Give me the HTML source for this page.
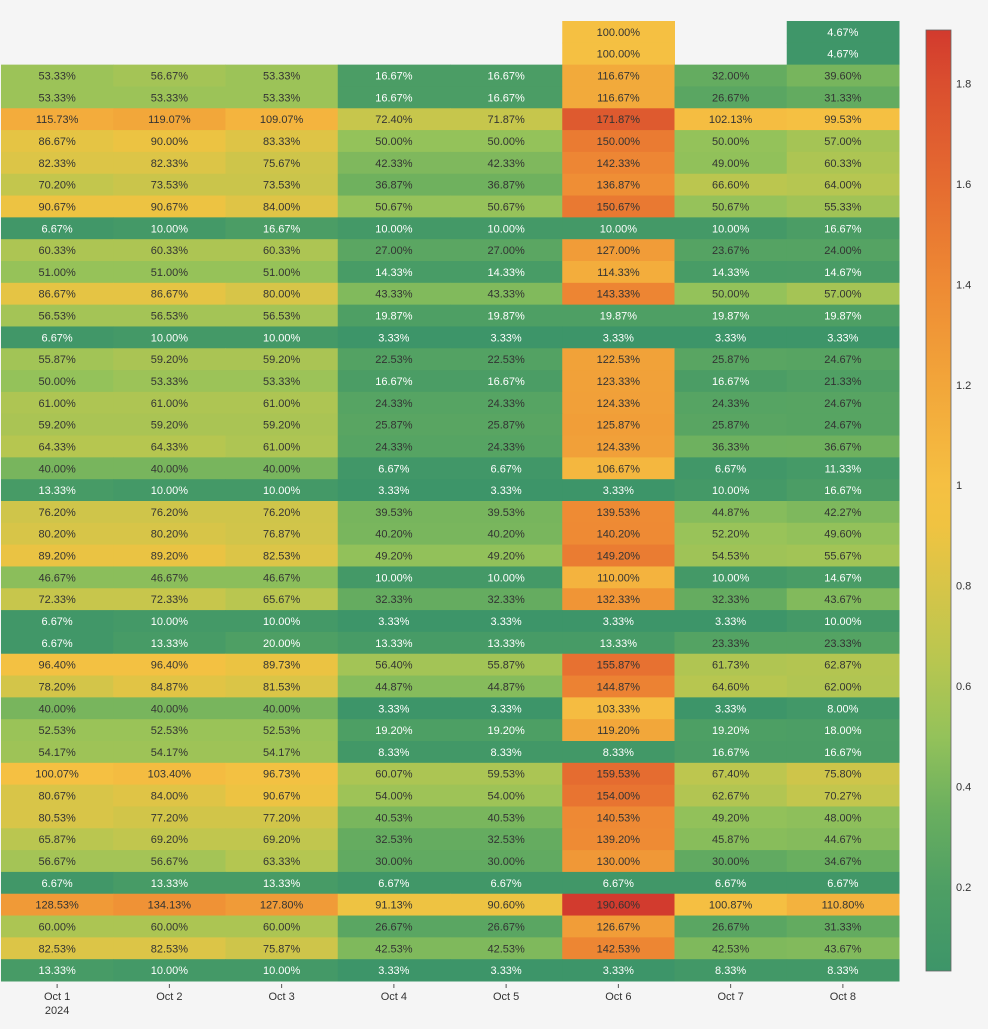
<!DOCTYPE html>
<html><head><meta charset="utf-8"><style>
body{margin:0;background:#f5f5f5;font-family:"Liberation Sans",sans-serif;}
svg text{font-family:"Liberation Sans",sans-serif;}
</style></head><body>
<svg id="chart" width="988" height="1024" xmlns="http://www.w3.org/2000/svg">
<defs><linearGradient id="cb" x1="0" y1="1" x2="0" y2="0"></linearGradient></defs>
<g id="cells"></g>
<g id="xaxis"></g>
<g id="colorbar"></g>
</svg>
<script>
const categories=["Oct 1","Oct 2","Oct 3","Oct 4","Oct 5","Oct 6","Oct 7","Oct 8"];
const N=null;
const rows=[
[N,N,N,N,N,100.00,N,4.67],
[N,N,N,N,N,100.00,N,4.67],
[53.33,56.67,53.33,16.67,16.67,116.67,32.00,39.60],
[53.33,53.33,53.33,16.67,16.67,116.67,26.67,31.33],
[115.73,119.07,109.07,72.40,71.87,171.87,102.13,99.53],
[86.67,90.00,83.33,50.00,50.00,150.00,50.00,57.00],
[82.33,82.33,75.67,42.33,42.33,142.33,49.00,60.33],
[70.20,73.53,73.53,36.87,36.87,136.87,66.60,64.00],
[90.67,90.67,84.00,50.67,50.67,150.67,50.67,55.33],
[6.67,10.00,16.67,10.00,10.00,10.00,10.00,16.67],
[60.33,60.33,60.33,27.00,27.00,127.00,23.67,24.00],
[51.00,51.00,51.00,14.33,14.33,114.33,14.33,14.67],
[86.67,86.67,80.00,43.33,43.33,143.33,50.00,57.00],
[56.53,56.53,56.53,19.87,19.87,19.87,19.87,19.87],
[6.67,10.00,10.00,3.33,3.33,3.33,3.33,3.33],
[55.87,59.20,59.20,22.53,22.53,122.53,25.87,24.67],
[50.00,53.33,53.33,16.67,16.67,123.33,16.67,21.33],
[61.00,61.00,61.00,24.33,24.33,124.33,24.33,24.67],
[59.20,59.20,59.20,25.87,25.87,125.87,25.87,24.67],
[64.33,64.33,61.00,24.33,24.33,124.33,36.33,36.67],
[40.00,40.00,40.00,6.67,6.67,106.67,6.67,11.33],
[13.33,10.00,10.00,3.33,3.33,3.33,10.00,16.67],
[76.20,76.20,76.20,39.53,39.53,139.53,44.87,42.27],
[80.20,80.20,76.87,40.20,40.20,140.20,52.20,49.60],
[89.20,89.20,82.53,49.20,49.20,149.20,54.53,55.67],
[46.67,46.67,46.67,10.00,10.00,110.00,10.00,14.67],
[72.33,72.33,65.67,32.33,32.33,132.33,32.33,43.67],
[6.67,10.00,10.00,3.33,3.33,3.33,3.33,10.00],
[6.67,13.33,20.00,13.33,13.33,13.33,23.33,23.33],
[96.40,96.40,89.73,56.40,55.87,155.87,61.73,62.87],
[78.20,84.87,81.53,44.87,44.87,144.87,64.60,62.00],
[40.00,40.00,40.00,3.33,3.33,103.33,3.33,8.00],
[52.53,52.53,52.53,19.20,19.20,119.20,19.20,18.00],
[54.17,54.17,54.17,8.33,8.33,8.33,16.67,16.67],
[100.07,103.40,96.73,60.07,59.53,159.53,67.40,75.80],
[80.67,84.00,90.67,54.00,54.00,154.00,62.67,70.27],
[80.53,77.20,77.20,40.53,40.53,140.53,49.20,48.00],
[65.87,69.20,69.20,32.53,32.53,139.20,45.87,44.67],
[56.67,56.67,63.33,30.00,30.00,130.00,30.00,34.67],
[6.67,13.33,13.33,6.67,6.67,6.67,6.67,6.67],
[128.53,134.13,127.80,91.13,90.60,190.60,100.87,110.80],
[60.00,60.00,60.00,26.67,26.67,126.67,26.67,31.33],
[82.53,82.53,75.87,42.53,42.53,142.53,42.53,43.67],
[13.33,10.00,10.00,3.33,3.33,3.33,8.33,8.33]
];
const cbTicks=[0.2,0.4,0.6,0.8,1,1.2,1.4,1.6,1.8];

const NS="http://www.w3.org/2000/svg";
function mk(t,a,p){const e=document.createElementNS(NS,t);for(const k in a)e.setAttribute(k,a[k]);p.appendChild(e);return e;}
const X0=1,X1=899,Y0=21,Y1=981;
const cw=(X1-X0)/categories.length, rh=(Y1-Y0)/rows.length;
const all=rows.flat().filter(v=>v!=null).map(v=>v/100);
const vmin=Math.min(...all), vmax=Math.max(...all);
const vstops=[[0.03,[61,149,105]],[0.2,[78,159,100]],[0.35,[106,175,95]],[0.5,[148,194,90]],[0.65,[184,198,80]],[0.8,[215,197,72]],[0.92,[240,195,65]],[1.0,[245,192,66]],[1.2,[242,166,58]],[1.4,[238,138,52]],[1.6,[229,107,48]],[1.8,[218,78,47]],[1.91,[210,58,46]]];
function color(v){if(v<=vstops[0][0])return `rgb(${vstops[0][1]})`;
 for(let i=1;i<vstops.length;i++){if(v<=vstops[i][0]){const a=vstops[i-1],b=vstops[i];const f=(v-a[0])/(b[0]-a[0]);
 const c=a[1].map((x,j)=>Math.round(x+(b[1][j]-x)*f));return `rgb(${c})`;}}return `rgb(${vstops[vstops.length-1][1]})`;}
const xPos=i=>X0+i*cw, yPos=r=>Y0+r*rh;
const cells=document.getElementById('cells');
rows.forEach((row,r)=>row.forEach((v,c)=>{if(v==null)return;
 const rect=mk('rect',{x:xPos(c),y:yPos(r),width:cw+0.5,height:rh+0.5,fill:color(v/100)},cells);
 
 
 const t=mk('text',{x:xPos(c)+cw/2,y:yPos(r)+rh/2+4,'text-anchor':'middle','font-size':11,fill:v/100<0.21?'#fff':'#333'},cells);
 
 
 t.textContent=v.toFixed(2)+'%';}));
const xa=document.getElementById('xaxis');
categories.forEach((c,i)=>{const cx=xPos(i)+cw/2;
 const tk=mk('line',{x1:cx,x2:cx,y1:Y1+3,y2:Y1+7,stroke:'#555'},xa);
 
 
 const t=mk('text',{x:cx,y:1000,'text-anchor':'middle','font-size':11,fill:'#333'},xa);
 
 
 t.textContent=c;
 if(i===0){const t2=mk('text',{x:cx,y:1014,'text-anchor':'middle','font-size':11,fill:'#333'},xa);
 
 
 t2.textContent='2024';}});
const g=document.getElementById('cb');
vstops.forEach(s=>mk('stop',{offset:Math.max(0,Math.min(1,(s[0]-vmin)/(vmax-vmin))),'stop-color':`rgb(${s[1]})`},g));
const cb=document.getElementById('colorbar');
const CB0=30,CB1=971;
const bar=mk('rect',{x:926,y:CB0,width:25,height:CB1-CB0,fill:'url(#cb)',stroke:'#666','stroke-width':0.8},cb);


const cbY=v=>CB1-(v-vmin)/(vmax-vmin)*(CB1-CB0);
cbTicks.forEach(v=>{const t=mk('text',{x:956,y:cbY(v)+4,'font-size':11,fill:'#333'},cb);
 
 
 t.textContent=String(v);});
</script>
</body></html>
